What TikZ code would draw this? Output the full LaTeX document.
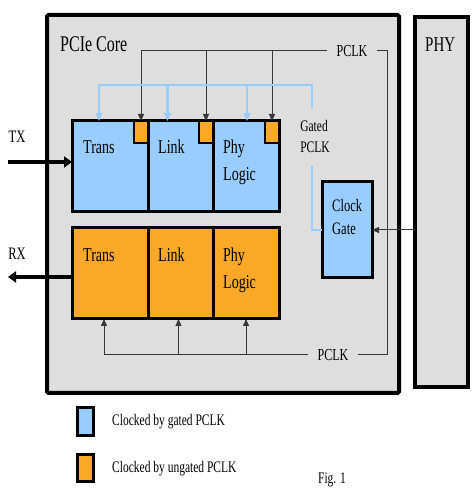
\documentclass[tikz,border=0pt]{standalone}
\usepackage{fontspec}
\setmainfont{Liberation Serif}
\usetikzlibrary{arrows.meta, positioning}
\definecolor{coregray}{RGB}{222,222,222}
\definecolor{gblue}{RGB}{153,204,255}
\definecolor{ugorange}{RGB}{250,168,40}
\definecolor{wirec}{RGB}{55,55,55}

\begin{document}
\begin{tikzpicture}[x=1pt, y=1pt,
    blk/.style={draw, line width=3pt, inner sep=0pt, outer sep=0pt, minimum height=91pt},
    tag/.style={draw, line width=2.5pt, fill=ugorange, inner sep=0pt, outer sep=0pt, minimum width=14pt, minimum height=22pt, anchor=north east},
    lbl/.style={font=\fontsize{14}{19}\selectfont, yscale=1.4, transform shape, inner sep=0pt, align=left},
    sm/.style 2 args={font=\fontsize{#1}{#2}\selectfont, yscale=1.4, transform shape, inner sep=0pt, align=left},
    clk/.style={draw=wirec, line width=1pt, -{Triangle[length=7pt,width=6pt]}},
    gclk/.style={draw=gblue, line width=2.5pt, -{Triangle[length=8pt,width=7pt]}},
    bus/.style={line width=4pt, -{Triangle[length=8pt,width=11pt]}}]
    \useasboundingbox (0,0) rectangle (474,497);

    % Core and PHY
    \node[draw, line width=4pt, fill=coregray, rounded corners=1.5pt, inner sep=0pt, outer sep=0pt,
          minimum width=352pt, minimum height=378pt, anchor=south west] (core) at (47,104) {};
    \node[draw, line width=4pt, fill=coregray, inner sep=0pt, outer sep=0pt,
          minimum width=53pt, minimum height=370pt, anchor=south west] (phy) at (415,110) {};
    \node[sm={16}{20}, anchor=base west] (coretxt) at ([xshift=13pt,yshift=-37pt]core.north west) {PCIe Core};
    \node[sm={15}{19}, anchor=base west] (phytxt) at ([xshift=10pt,yshift=-35pt]phy.north west) {PHY};

    % Gated blocks
    \node[blk, fill=gblue, minimum width=76pt, anchor=north west] (tt) at (72,376) {};
    \node[blk, fill=gblue, minimum width=65pt, right=0pt of tt] (tl) {};
    \node[blk, fill=gblue, minimum width=66pt, right=0pt of tl] (tp) {};
    \node[tag] (sqt) at (tt.north east) {};
    \node[tag] (sql) at (tl.north east) {};
    \node[tag] (sqp) at (tp.north east) {};
    \node[lbl, anchor=north west] at ([xshift=11pt,yshift=-19pt]tt.north west) {Trans};
    \node[lbl, anchor=north west] at ([xshift=10pt,yshift=-19pt]tl.north west) {Link};
    \node[lbl, anchor=north west] at ([xshift=10pt,yshift=-19pt]tp.north west) {Phy\\Logic};

    % Ungated blocks
    \node[blk, fill=ugorange, minimum width=76pt, anchor=north west] (bt) at (72,269) {};
    \node[blk, fill=ugorange, minimum width=65pt, right=0pt of bt] (bl) {};
    \node[blk, fill=ugorange, minimum width=66pt, right=0pt of bl] (bp) {};
    \node[lbl, anchor=north west] at ([xshift=11pt,yshift=-20pt]bt.north west) {Trans};
    \node[lbl, anchor=north west] at ([xshift=10pt,yshift=-20pt]bl.north west) {Link};
    \node[lbl, anchor=north west] at ([xshift=10pt,yshift=-20pt]bp.north west) {Phy\\Logic};

    % Clock gate
    \node[blk, fill=gblue, minimum width=50pt, minimum height=96pt, anchor=south west] (cg) at (322,219) {};
    \node[sm={12.5}{16.5}, anchor=north west] at ([xshift=10pt,yshift=-17pt]cg.north west) {Clock\\Gate};

    % PCLK wires
    \node[sm={12}{16}, fill=coregray, inner xsep=9pt] (pclkt) at (352,446) {PCLK};
    \node[sm={12}{16}, fill=coregray, inner xsep=9pt] (pclkb) at (333,142) {PCLK};
    \coordinate (pturn) at (387,142);
    \draw[wirec, line width=1pt] (pclkt.east) -| (pturn) -- (pclkb.east);
    \draw[clk] (pclkt.west) -| (sqt.north);
    \draw[clk] (pclkt.west -| sql.north) -- (sql.north);
    \draw[clk] (pclkt.west -| sqp.north) -- (sqp.north);
    \draw[clk] (pclkb.west) -| ([xshift=-6pt]bt.south);
    \draw[clk] ([xshift=-2pt]bl.south |- pclkb.west) -- ([xshift=-2pt]bl.south);
    \draw[clk] (bp.south |- pclkb.west) -- (bp.south);
    \draw[clk] (phy.west |- cg.east) -- (cg.east);

    % Gated PCLK
    \coordinate (gtop) at (312,412);
    \draw[gclk] (cg.west) -| (gtop) -| ([xshift=-11pt]tt.north);
    \draw[gclk] ([xshift=-13pt]tl.north |- gtop) -- ([xshift=-13pt]tl.north);
    \draw[gclk] ([xshift=1pt]tp.north |- gtop) -- ([xshift=1pt]tp.north);
    \node[sm={11.5}{15}, fill=coregray, inner xsep=2pt, inner ysep=9pt] (gated) at (315,360) {Gated\\PCLK};

    % TX and RX
    \coordinate (txin) at (8,335);
    \coordinate (rxout) at (8,220);
    \draw[bus] (txin) -- (txin -| tt.west);
    \draw[bus] (rxout -| bt.west) -- (rxout);
    \node[sm={12.5}{16}] (tx) at (17,360) {TX};
    \node[sm={12.5}{16}] (rx) at (17,243) {RX};

    % Legend
    \node[draw, line width=3pt, fill=gblue, inner sep=0pt, outer sep=0pt, minimum width=16pt,
          minimum height=28pt, anchor=south west] (keyg) at (77,61) {};
    \node[draw, line width=3pt, fill=ugorange, inner sep=0pt, outer sep=0pt, minimum width=16pt,
          minimum height=27pt, anchor=south west] (keyu) at (77,15) {};
    \node[sm={11.5}{15}, right=19pt of keyg] {Clocked by gated PCLK};
    \node[sm={11.5}{15}, right=19pt of keyu] {Clocked by ungated PCLK};
    \node[sm={11.5}{15}] (fig) at (332,17) {Fig. 1};
\end{tikzpicture}
\end{document}
